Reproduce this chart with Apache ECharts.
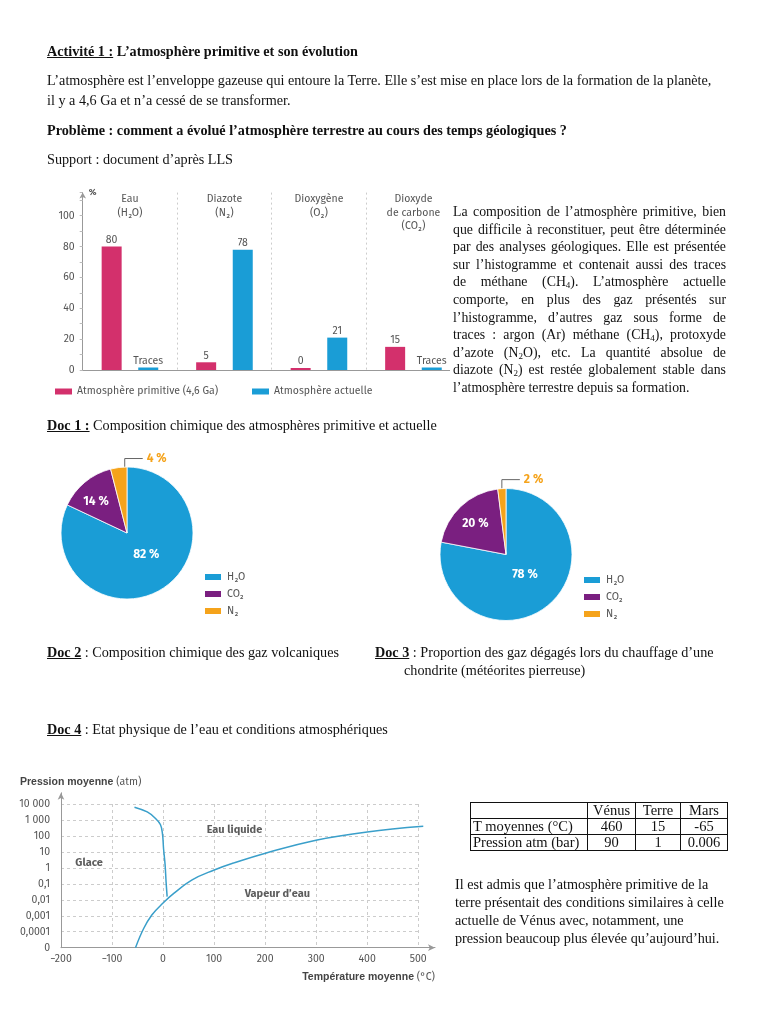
<!DOCTYPE html>
<html lang="fr">
<head>
<meta charset="utf-8">
<title>Activité 1 : L’atmosphère primitive et son évolution</title>
<script src="https://cdn.jsdelivr.net/npm/echarts@6/dist/echarts.min.js"></script>
<style>
html, body { margin: 0; padding: 0; background: #fff; }
body {
  width: 768px; height: 1024px; position: relative; overflow: hidden;
  font-family: "Liberation Serif", "Times New Roman", serif; font-size: 14.2px; color: #111;
}
#page { position: absolute; left: 0; top: 0; width: 768px; height: 1024px; }
#barsClip { position: absolute; left: 0; top: 0; width: 450px; height: 410px; overflow: hidden; }
#bars { position: absolute; left: 0; top: 0; width: 490px; height: 410px; }
.t { position: absolute; white-space: nowrap; line-height: 18px; z-index: 2; }
.b { font-weight: bold; }
.u { text-decoration: underline; }
sub { font-size: 9px; line-height: 0; vertical-align: -2px; }
.just { position: absolute; left: 453px; top: 203px; width: 273px; font-size: 13.8px; line-height: 17.6px; z-index: 2; }
.just div { text-align: justify; text-align-last: justify; white-space: nowrap; }
.just div.last { text-align-last: left; }
table { position: absolute; left: 470px; top: 802px; border-collapse: collapse; font-size: 14.5px; z-index: 2; table-layout: fixed; }
td { border: 1px solid #111; height: 15px; padding: 0 2px; line-height: 15px; text-align: center; overflow: hidden; white-space: nowrap; }
td.l { text-align: left; }
</style>
</head>
<body>
<div id="page"></div>
<div id="barsClip"><div id="bars"></div></div>

<div class="t b" style="left:47px;top:42px"><span class="u">Activité 1 :</span> L’atmosphère primitive et son évolution</div>
<div class="t" style="left:47px;top:71px;line-height:19.5px">L’atmosphère est l’enveloppe gazeuse qui entoure la Terre. Elle s’est mise en place lors de la formation de la planète,<br>il y a 4,6 Ga et n’a cessé de se transformer.</div>
<div class="t b" style="left:47px;top:121px">Problème : comment a évolué l’atmosphère terrestre au cours des temps géologiques ?</div>
<div class="t" style="left:47px;top:150px">Support : document d’après LLS</div>

<div class="just">
  <div>La composition de l’atmosphère primitive, bien</div>
  <div>que difficile à reconstituer, peut être déterminée</div>
  <div>par des analyses géologiques. Elle est présentée</div>
  <div>sur l’histogramme et contenait aussi des traces</div>
  <div>de méthane (CH<sub>4</sub>). L’atmosphère actuelle</div>
  <div>comporte, en plus des gaz présentés sur</div>
  <div>l’histogramme, d’autres gaz sous forme de</div>
  <div>traces : argon (Ar) méthane (CH<sub>4</sub>), protoxyde</div>
  <div>d’azote (N<sub>2</sub>O), etc. La quantité absolue de</div>
  <div>diazote (N<sub>2</sub>) est restée globalement stable dans</div>
  <div class="last">l’atmosphère terrestre depuis sa formation.</div>
</div>

<div class="t" style="left:47px;top:416px"><span class="b u">Doc 1 :</span> Composition chimique des atmosphères primitive et actuelle</div>
<div class="t" style="left:47px;top:643px"><span class="b u">Doc 2</span> : Composition chimique des gaz volcaniques</div>
<div class="t" style="left:375px;top:643px"><span class="b u">Doc 3</span> : Proportion des gaz dégagés lors du chauffage d’une</div>
<div class="t" style="left:404px;top:661px">chondrite (météorites pierreuse)</div>
<div class="t" style="left:47px;top:720px"><span class="b u">Doc 4</span> : Etat physique de l’eau et conditions atmosphériques</div>

<table id="planets"></table>

<div class="t" style="left:455px;top:875px">Il est admis que l’atmosphère primitive de la<br>terre présentait des conditions similaires à celle<br>actuelle de Vénus avec, notamment, une<br>pression beaucoup plus élevée qu’aujourd’hui.</div>

<script>
// Doc 1 : histogramme
const gases = ['Eau\n(H₂O)', 'Diazote\n(N₂)', 'Dioxygène\n(O₂)', 'Dioxyde\nde carbone\n(CO₂)']
const primitive = [80, 5, 0, 15]
const actuelle = [0, 78, 21, 0] // 0 = traces
const actuelleLabels = ['Traces', '78', '21', 'Traces']

// Doc 2 / Doc 3 : camemberts
const pieGases = ['H₂O', 'CO₂', 'N₂']
const volcanic = [82, 14, 4]
const chondrite = [78, 20, 2]

// Doc 4 : diagramme de phase (pression sur graduations régulières)
const pressureTicks = ['0', '0,0001', '0,001', '0,01', '0,1', '1', '10', '100', '1 000', '10 000']
const fusionCurve = [[-56, 8.8], [-31, 8.5], [-15, 8.1], [-5, 7.7], [-1, 7.1], [1, 6.2], [4, 5.2], [6, 4.1], [8, 3.2]]
const vaporCurve = [[-54, 0], [-38, 1.2], [-22, 2.05], [0, 2.8], [21, 3.4], [57, 4.25], [99, 4.85], [138, 5.3], [204, 5.95], [302, 6.75], [400, 7.25], [510, 7.6]]
const phaseNames = [['Eau liquide', 140, 7.4], ['Glace', -145, 5.3], ['Vapeur d’eau', 224, 3.35]]

// tableau Vénus / Terre / Mars
const planets = ['Vénus', 'Terre', 'Mars']
const tempMoy = ['460', '15', '-65']
const pressionAtm = ['90', '1', '0.006']

const PINK = '#d3306c'
const BLUE = '#1a9dd6'
const PURPLE = '#7a1f80'
const ORANGE = '#f5a31b'
const GREY = '#555'
const FONT = 'Fira Sans, Lato, sans-serif'

// tableau
const table = document.getElementById('planets')
const widths = [112, 43, 40, 42]
const rows = [[''].concat(planets), ['T moyennes (°C)'].concat(tempMoy), ['Pression atm (bar)'].concat(pressionAtm)]
rows.forEach(r => {
  const tr = document.createElement('tr')
  r.forEach((v, i) => {
    const td = document.createElement('td')
    td.textContent = v
    td.style.width = widths[i] + 'px'
    if (i === 0) td.className = 'l'
    tr.appendChild(td)
  })
  table.appendChild(tr)
})

// histogramme
const bars = echarts.init(document.getElementById('bars'))
const barLegend = (name, left) => ({
  data: [name], left: left, top: 386, padding: 0, itemWidth: 17, itemHeight: 6, icon: 'rect',
  textStyle: { color: GREY, fontSize: 10.5, fontFamily: FONT }
})
bars.setOption({
  animation: false,
  textStyle: { fontFamily: FONT },
  grid: { left: 82.7, top: 192.6, width: 378, height: 177.4 },
  legend: [
    barLegend('Atmosphère primitive (4,6 Ga)', 55),
    barLegend('Atmosphère actuelle', 252)
  ],
  xAxis: [
    {
      type: 'category', data: gases,
      axisLine: { lineStyle: { color: '#999' } },
      axisTick: { show: false },
      axisLabel: { show: false },
      splitLine: { show: true, lineStyle: { color: '#ccc', type: [2, 3] } }
    },
    {
      type: 'category', data: gases, position: 'top',
      axisLine: { show: false }, axisTick: { show: false },
      axisLabel: { inside: true, margin: 0, verticalAlign: 'top', color: GREY, fontSize: 10.5, lineHeight: 13.5 },
      splitLine: { show: false }
    }
  ],
  yAxis: {
    type: 'value', min: 0, max: 115, interval: 20,
    name: '%', nameGap: 0,
    nameTextStyle: { align: 'left', verticalAlign: 'bottom', padding: [0, 0, -4, 6], color: GREY, fontSize: 9, fontWeight: 'bold' },
    axisLine: { show: true, symbol: ['none', 'arrow'], symbolSize: [5, 6], lineStyle: { color: '#999' } },
    axisTick: { show: true, length: 3, lineStyle: { color: '#bbb' } },
    minorTick: { show: true, splitNumber: 2, length: 3, lineStyle: { color: '#bbb' } },
    axisLabel: { showMaxLabel: false, color: GREY, fontSize: 10.5, margin: 8 },
    splitLine: { show: false }
  },
  series: [
    {
      name: 'Atmosphère primitive (4,6 Ga)', type: 'bar', data: primitive,
      barWidth: 20, barGap: '83%', barMinHeight: 2,
      itemStyle: { color: PINK },
      label: { show: true, position: 'top', distance: 1, color: GREY, fontSize: 10.5 }
    },
    {
      name: 'Atmosphère actuelle', type: 'bar', data: actuelle,
      barWidth: 20, barMinHeight: 2.5,
      itemStyle: { color: BLUE },
      label: { show: true, position: 'top', distance: 1, color: GREY, fontSize: 10.5,
        formatter: p => actuelleLabels[p.dataIndex] }
    }
  ]
})

// camemberts + diagramme de phase
const page = echarts.init(document.getElementById('page'))
const pieColors = [BLUE, PURPLE, ORANGE]

// étiquettes : petit décalage des pourcentages intérieurs,
// et pour N2 un trait vertical puis horizontal vers la droite
const pieLayout = (shifts, lead) => p => {
  if (p.dataIndex !== 2 || !p.labelLinePoints) {
    const s = shifts[p.dataIndex] || [0, 0]
    return { dx: s[0], dy: s[1] }
  }
  const x0 = p.labelLinePoints[0][0] + lead
  const y0 = p.labelLinePoints[0][1]
  return {
    x: x0 + 22, y: y0 - 9, align: 'left', verticalAlign: 'middle',
    labelLinePoints: [[x0, y0], [x0, y0 - 9], [x0 + 18, y0 - 9]]
  }
}

const pieSeries = (values, center, shifts, lead) => ({
  type: 'pie', center: center, radius: 66, startAngle: 90, clockwise: true,
  itemStyle: { borderColor: '#fff', borderWidth: 0.8 },
  label: { position: 'inside', formatter: '{c} %', color: '#fff', fontSize: 12, fontWeight: 'bold', fontFamily: FONT },
  labelLine: { show: false },
  labelLayout: pieLayout(shifts, lead),
  emphasis: { disabled: true },
  data: values.map((v, i) => {
    const d = { name: pieGases[i], value: v, itemStyle: { color: pieColors[i] } }
    if (i === 2) {
      d.label = { position: 'outside', color: ORANGE }
      d.labelLine = { show: true, length: 8, length2: 18, lineStyle: { color: '#666', width: 1 } }
    }
    return d
  })
})

const pieLegend = (left, top) => ({
  data: pieGases, orient: 'vertical', left: left, top: top, padding: 0,
  itemWidth: 18, itemHeight: 8, itemGap: 5, icon: 'rect',
  selectedMode: false,
  textStyle: { color: GREY, fontSize: 10.5, lineHeight: 12, fontFamily: FONT }
})

const axisGrey = { color: '#999' }
const dashed = { show: true, lineStyle: { color: '#ccc', type: [3, 3] } }

page.setOption({
  animation: false,
  textStyle: { fontFamily: FONT },
  legend: [pieLegend(203, 571), pieLegend(582, 574)],
  // grille 0 : axes avec flèches ; grille 1 : quadrillage limité à -200..500 et 0..10 000
  grid: [
    { left: 61, top: 792.8, width: 374, height: 154.9 },
    { left: 61, top: 804, width: 357, height: 143.7 }
  ],
  xAxis: [
    {
      type: 'value', min: -200, max: 533, interval: 100, gridIndex: 0,
      axisLine: { show: true, onZero: false, symbol: ['none', 'arrow'], symbolSize: [5, 7], lineStyle: axisGrey },
      axisTick: { show: false },
      axisLabel: { showMaxLabel: false, color: GREY, fontSize: 10.5, margin: 6,
        formatter: v => String(v).replace('-', '−') },
      splitLine: { show: false }
    },
    {
      type: 'value', min: -200, max: 500, interval: 100, gridIndex: 1,
      axisLine: { show: false }, axisTick: { show: false }, axisLabel: { show: false },
      splitLine: dashed
    }
  ],
  yAxis: [
    {
      type: 'value', min: 0, max: 9.7, interval: 1, gridIndex: 0,
      axisLine: { show: true, onZero: false, symbol: ['none', 'arrow'], symbolSize: [5, 7], lineStyle: axisGrey },
      axisTick: { show: false },
      axisLabel: { showMaxLabel: false, color: GREY, fontSize: 10.5, margin: 11,
        formatter: v => pressureTicks[v] },
      splitLine: { show: false }
    },
    {
      type: 'value', min: 0, max: 9, interval: 1, gridIndex: 1,
      axisLine: { show: false }, axisTick: { show: false }, axisLabel: { show: false },
      splitLine: dashed
    }
  ],
  graphic: [
    { type: 'text', left: 20, top: 777, style: {
      text: '{b|Pression moyenne} (atm)', fill: GREY, fontSize: 10.5, fontFamily: FONT,
      rich: { b: { fontWeight: 'bold', fontSize: 10.5, fill: '#444' } } } },
    { type: 'text', right: 333, top: 972, style: {
      text: '{b|Température moyenne} (°C)', fill: GREY, fontSize: 10.5, fontFamily: FONT,
      rich: { b: { fontWeight: 'bold', fontSize: 10.5, fill: '#444' } } } }
  ],
  series: [
    pieSeries(volcanic, [127, 533], [[0, -9], [-8, -4]], 6),
    pieSeries(chondrite, [506, 554.5], [[-4, -8], [-6, -5]], 0),
    {
      type: 'line', data: fusionCurve, smooth: 0.4, symbol: 'none', xAxisIndex: 0, yAxisIndex: 0,
      lineStyle: { color: '#3a9fca', width: 1.5 }
    },
    {
      type: 'line', data: vaporCurve, smooth: 0.4, symbol: 'none', xAxisIndex: 0, yAxisIndex: 0,
      lineStyle: { color: '#3a9fca', width: 1.5 }
    },
    {
      type: 'scatter', symbolSize: 0, xAxisIndex: 0, yAxisIndex: 0,
      data: phaseNames.map(d => ({ name: d[0], value: [d[1], d[2]] })),
      label: { show: true, position: 'inside', formatter: '{b}', color: '#333', fontSize: 11, fontWeight: 'bold' }
    }
  ]
})

window.addEventListener('resize', () => { bars.resize(); page.resize() })
</script>
</body>
</html>
